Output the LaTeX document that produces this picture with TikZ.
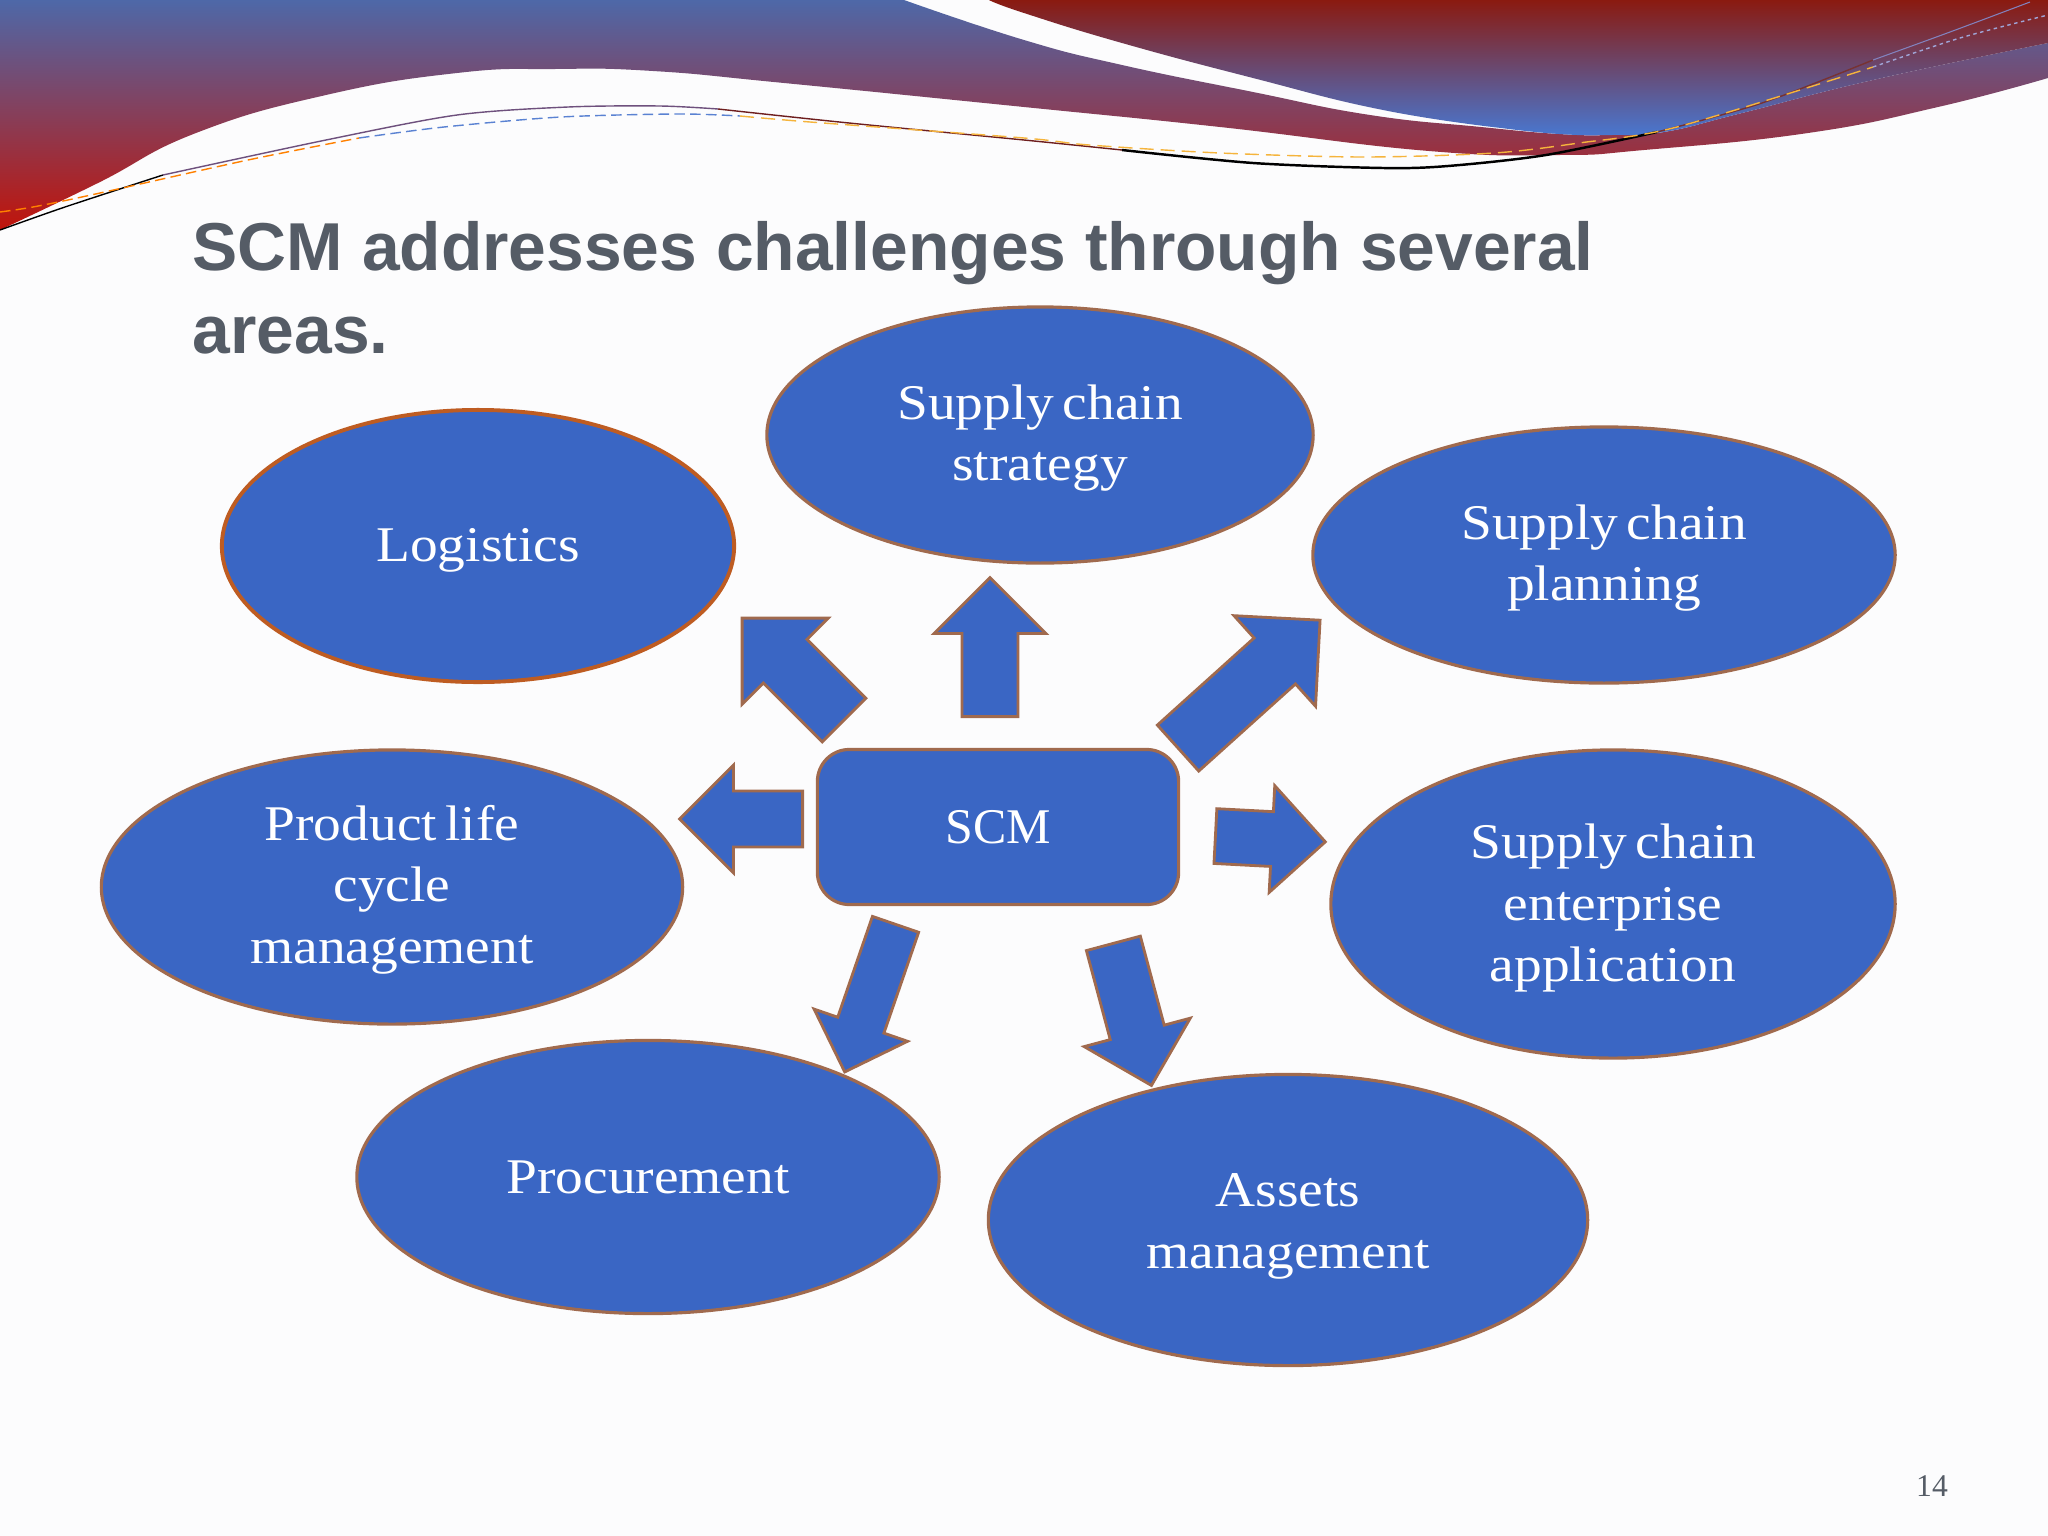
\documentclass[tikz,border=0pt]{standalone}
\usepackage{fontspec}
\setmainfont{Liberation Serif}
\newfontfamily\headfont{Liberation Sans}
\newfontfamily\areafont[FakeStretch=1.11,WordSpace=0.6]{Liberation Serif}
\usetikzlibrary{shapes.geometric,shapes.arrows}

\definecolor{areablue}{RGB}{58,102,196}
\definecolor{areaedge}{RGB}{160,106,78}
\definecolor{logisticsedge}{RGB}{190,92,34}
\definecolor{headgrey}{RGB}{85,92,102}
\definecolor{pagebg}{RGB}{252,252,253}
\definecolor{bandtop}{RGB}{78,104,168}
\definecolor{bandmid}{RGB}{135,60,90}
\definecolor{bandlow}{RGB}{192,20,10}
\definecolor{wavetop}{RGB}{138,26,16}
\definecolor{wavemid}{RGB}{112,70,118}
\definecolor{wavelow}{RGB}{72,120,210}
\definecolor{linepurple}{RGB}{110,80,125}
\definecolor{linered}{RGB}{110,30,30}
\definecolor{linerust}{RGB}{120,50,50}
\definecolor{linesteel}{RGB}{130,130,190}
\definecolor{lineblue}{RGB}{90,130,210}
\definecolor{lineyellow}{RGB}{245,180,60}
\definecolor{linepale}{RGB}{160,165,215}

\tikzset{
  area/.style={ellipse, draw=areaedge, line width=0.9pt, fill=areablue, text=white, inner sep=0pt,
    align=center, font=\areafont\fontsize{14.2}{17.4}\selectfont},
  hubbox/.style={rectangle, rounded corners=0.32cm, draw=areaedge, line width=0.9pt, fill=areablue,
    text=white, inner sep=0pt, font=\fontsize{14.2}{17.4}\selectfont},
  blockarrow/.style={single arrow, draw=areaedge, line width=0.8pt, fill=areablue, inner xsep=0pt,
    anchor=tail},
  swoosh/.style={line width=0.4pt}
}

\begin{document}
\begin{tikzpicture}[x=0.01cm, y=-0.01cm]
    \useasboundingbox (0, 0) rectangle (2048, 1536);
    \fill[pagebg] (0, 0) rectangle (2048, 1536);

    % Draw the top banner (wide band, then the red to blue wave)
    \shade[top color=bandtop, middle color=bandmid, bottom color=bandlow]
        (0, 0) -- (904, 0)
        -- plot[smooth, tension=0.8] coordinates {(904, 0) (1024, 40) (1122, 65) (1253, 92) (1370, 115) (1481, 127) (1559, 134) (1612, 135) (1664, 132) (1742, 113) (1873, 80) (2048, 43)}
        -- (2048, 78)
        -- plot[smooth, tension=0.8] coordinates {(2048, 78) (1938, 107) (1808, 133) (1644, 150) (1559, 155) (1429, 151) (1220, 127) (1024, 107) (784, 83) (653, 71) (555, 69) (457, 73) (326, 95) (196, 133) (98, 183) (0, 230)}
        -- cycle;
    \shade[top color=wavetop, middle color=wavemid, bottom color=wavelow]
        (989, 0) -- (2048, 0) -- (2048, 43)
        -- plot[smooth, tension=0.8] coordinates {(2048, 43) (1873, 80) (1742, 113) (1664, 132) (1612, 135) (1559, 134) (1501, 128)}
        -- plot[smooth, tension=0.8] coordinates {(1501, 128) (1383, 110) (1253, 78) (1122, 43) (1024, 13) (989, 0)}
        -- cycle;

    % Draw the thin lines along the banner
    \draw[swoosh, black] plot[smooth] coordinates {(0, 230) (65, 207) (163, 175)};
    \draw[swoosh, linepurple] plot[smooth] coordinates {(163, 175) (326, 140) (457, 115) (568, 107) (660, 106) (718, 109)};
    \draw[swoosh, linered] plot[smooth] coordinates {(718, 109) (849, 123) (1024, 140) (1122, 150)};
    \draw[swoosh, black, line width=0.7pt] plot[smooth] coordinates {(1122, 150) (1253, 163) (1383, 168) (1448, 166) (1546, 155) (1657, 132)};
    \draw[swoosh, linerust] plot[smooth] coordinates {(1657, 132) (1762, 103) (1873, 60)};
    \draw[swoosh, linesteel, line width=0.3pt] plot[smooth] coordinates {(1873, 60) (1950, 32) (2030, 2)};
    \draw[swoosh, orange, dash pattern=on 3pt off 1.5pt] plot[smooth] coordinates {(0, 212) (33, 207) (91, 195) (248, 160) (359, 138)};
    \draw[swoosh, lineblue, dash pattern=on 3pt off 1.5pt] plot[smooth] coordinates {(359, 138) (444, 127) (561, 117) (679, 114) (740, 116)};
    \draw[swoosh, lineyellow, dash pattern=on 4pt off 2pt] plot[smooth] coordinates {(740, 116) (810, 122) (1024, 138) (1089, 145) (1220, 153) (1364, 157) (1494, 153) (1579, 143) (1677, 127) (1873, 67)};
    \draw[swoosh, linepale, dash pattern=on 1pt off 1pt] plot[smooth] coordinates {(1873, 67) (1960, 38) (2048, 15)};

    % Draw the heading
    \node[anchor=north west, inner sep=0pt, align=left, text=headgrey,
        font=\headfont\bfseries\fontsize{19.27}{23.4}\selectfont] (heading) at (192, 221)
        {SCM addresses challenges through several\\areas.};

    % Draw the surrounding areas
    \node[area, text height=12pt, line width=1.1pt, draw=logisticsedge, minimum width=5.12cm, minimum height=2.72cm] (logistics) at (478, 546) {Logistics};
    \node[area, text height=28.9pt, minimum width=5.46cm, minimum height=2.56cm] (strategy) at (1040, 435) {Supply chain\\strategy};
    \node[area, text height=28.9pt, minimum width=5.82cm, minimum height=2.56cm] (planning) at (1604, 555) {Supply chain\\planning};
    \node[area, text height=47pt, minimum width=5.64cm, minimum height=3.08cm] (enterprise) at (1613, 904) {Supply chain\\enterprise\\application};
    \node[area, text height=30.4pt, minimum width=5.99cm, minimum height=2.91cm] (assets) at (1288, 1220) {Assets\\management};
    \node[area, minimum width=5.82cm, minimum height=2.73cm] (procurement) at (648, 1177) {Procurement};
    \node[area, text height=46.3pt, minimum width=5.81cm, minimum height=2.74cm] (lifecycle) at (392, 887) {Product life\\cycle\\management};

    % Draw the centre box
    \node[hubbox, minimum width=3.61cm, minimum height=1.55cm] (scm) at (998, 827) {SCM};

    % Draw the block arrows from the centre box
    \node[blockarrow, rotate=90, minimum height=1.39cm, inner ysep=0.265cm, single arrow head extend=0.28cm] (toStrategy) at (990, 718) {};
    \node[blockarrow, rotate=135, minimum height=1.44cm, inner ysep=0.295cm, single arrow head extend=0.30cm] (toLogistics) at (845, 721) {};
    \node[blockarrow, rotate=42, minimum height=1.91cm, inner ysep=0.295cm, single arrow head extend=0.30cm] (toPlanning) at (1177, 749) {};
    \node[blockarrow, rotate=180, minimum height=1.23cm, inner ysep=0.265cm, single arrow head extend=0.26cm] (toLifecycle) at (804, 819) {};
    \node[blockarrow, rotate=-3, minimum height=1.10cm, inner ysep=0.26cm, single arrow head extend=0.26cm] (toEnterprise) at (1214, 836) {};
    \node[blockarrow, rotate=-109, minimum height=1.56cm, inner ysep=0.23cm, single arrow head extend=0.25cm] (toProcurement) at (896, 923) {};
    \node[blockarrow, rotate=-75, minimum height=1.47cm, inner ysep=0.265cm, single arrow head extend=0.27cm] (toAssets) at (1113, 942) {};

    % Draw the page number
    \node[text=headgrey, inner sep=0pt, font=\fontsize{9}{11}\selectfont] (pagenumber) at (1932, 1486) {14};
\end{tikzpicture}
\end{document}
